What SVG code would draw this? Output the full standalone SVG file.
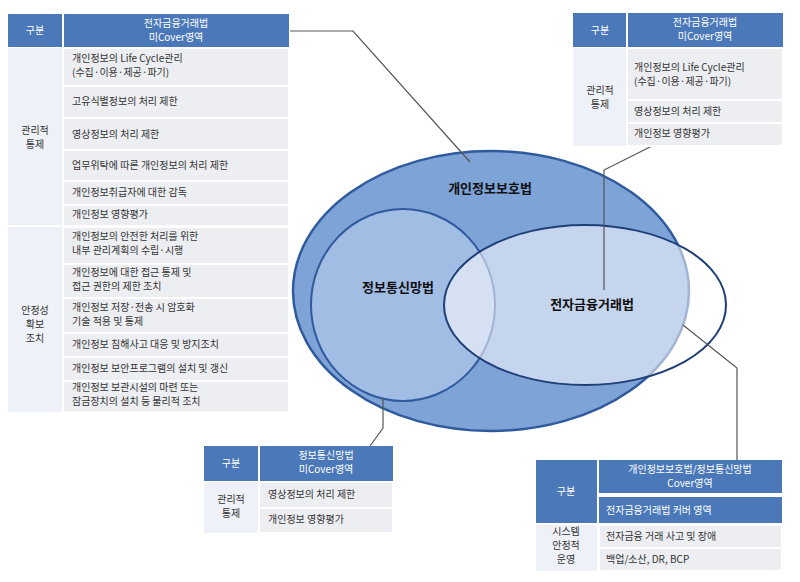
<svg xmlns="http://www.w3.org/2000/svg" width="800" height="582" viewBox="0 0 800 582">
<style>
text{font-family:"Noto Sans CJK KR","Noto Sans",sans-serif;font-size:10px;fill:#333}
.h{fill:#fff;font-size:10px;text-anchor:middle}
.hb{fill:#4a78b8}
.lc{fill:#eef1f7}
.rw{fill:#eceef2;stroke:#fff;stroke-width:2}
.c{text-anchor:middle}
.ln{fill:none;stroke:#555;stroke-width:1.2}
.big{font-size:13px;font-weight:bold;fill:#111;text-anchor:middle}
</style>
<rect width="800" height="582" fill="#fff"/>
<g id="venn">
<ellipse cx="491" cy="291" rx="198" ry="140" fill="#7ea3d7" stroke="#2f5a9e" stroke-width="2.5"/>
<ellipse cx="403" cy="305" rx="92" ry="96" fill="#a2bde4" stroke="#2f5a9e" stroke-width="2"/>
<ellipse cx="585" cy="305" rx="141" ry="80" fill="#ffffff" fill-opacity="0.55" stroke="#1f3f78" stroke-width="2"/>
<text class="big" x="490" y="193">개인정보보호법</text>
<text class="big" x="398" y="292">정보통신망법</text>
<text class="big" x="592" y="309">전자금융거래법</text>
</g>
<g id="connectors">
<polyline class="ln" points="290,31 353,31 470,162"/>
<polyline class="ln" points="652,146 604,170 604,290"/>
<polyline class="ln" points="383,398 383,428 370,446"/>
<polyline class="ln" points="683,325 737,368 737,460"/>
</g>
<g id="table-left">
<rect class="hb" x="8" y="14" width="281" height="33"/>
<line x1="63" y1="14" x2="63" y2="47" stroke="#fff" stroke-width="2"/>
<text class="h" x="35" y="34">구분</text>
<text class="h" x="176" y="27">전자금융거래법</text>
<text class="h" x="176" y="41">미Cover영역</text>
<rect class="lc" x="8" y="48" width="54" height="177"/>
<rect class="lc" x="8" y="227" width="54" height="185"/>
<rect class="rw" x="63" y="48" width="226" height="38"/>
<rect class="rw" x="63" y="86" width="226" height="32"/>
<rect class="rw" x="63" y="118" width="226" height="32"/>
<rect class="rw" x="63" y="150" width="226" height="31"/>
<rect class="rw" x="63" y="181" width="226" height="24"/>
<rect class="rw" x="63" y="205" width="226" height="21"/>
<rect class="rw" x="63" y="227" width="226" height="37"/>
<rect class="rw" x="63" y="264" width="226" height="34"/>
<rect class="rw" x="63" y="298" width="226" height="35"/>
<rect class="rw" x="63" y="333" width="226" height="24"/>
<rect class="rw" x="63" y="357" width="226" height="24"/>
<rect class="rw" x="63" y="381" width="226" height="31"/>
<text class="c" x="35" y="134">관리적</text><text class="c" x="35" y="148">통제</text>
<text class="c" x="35" y="314">안정성</text><text class="c" x="35" y="328">확보</text><text class="c" x="35" y="342">조치</text>
<text x="72" y="62">개인정보의 Life Cycle관리</text>
<text x="72" y="76">(수집·이용·제공·파기)</text>
<text x="72" y="105">고유식별정보의 처리 제한</text>
<text x="72" y="138">영상정보의 처리 제한</text>
<text x="72" y="169">업무위탁에 따른 개인정보의 처리 제한</text>
<text x="72" y="196">개인정보취급자에 대한 감독</text>
<text x="72" y="218">개인정보 영향평가</text>
<text x="72" y="240">개인정보의 안전한 처리를 위한</text>
<text x="72" y="254">내부 관리계획의 수립·시행</text>
<text x="72" y="276">개인정보에 대한 접근 통제 및</text>
<text x="72" y="290">접근 권한의 제한 조치</text>
<text x="72" y="311">개인정보 저장·전송 시 암호화</text>
<text x="72" y="325">기술 적용 및 통제</text>
<text x="72" y="348">개인정보 침해사고 대응 및 방지조치</text>
<text x="72" y="372">개인정보 보안프로그램의 설치 및 갱신</text>
<text x="72" y="391">개인정보 보관시설의 마련 또는</text>
<text x="72" y="405">잠금장치의 설치 등 물리적 조치</text>
</g>
<g id="table-top-right">
<rect class="hb" x="573" y="13" width="210" height="34"/>
<line x1="627" y1="13" x2="627" y2="47" stroke="#fff" stroke-width="2"/>
<text class="h" x="600" y="34">구분</text>
<text class="h" x="705" y="26">전자금융거래법</text>
<text class="h" x="705" y="40">미Cover영역</text>
<rect class="lc" x="573" y="48" width="53" height="98"/>
<rect class="rw" x="627" y="48" width="156" height="52"/>
<rect class="rw" x="627" y="100" width="156" height="23"/>
<rect class="rw" x="627" y="123" width="156" height="23"/>
<text class="c" x="600" y="94">관리적</text><text class="c" x="600" y="108">통제</text>
<text x="634" y="71">개인정보의 Life Cycle관리</text>
<text x="634" y="85">(수집·이용·제공·파기)</text>
<text x="634" y="115">영상정보의 처리 제한</text>
<text x="634" y="137">개인정보 영향평가</text>
</g>
<g id="table-bottom-center">
<rect class="hb" x="204" y="446" width="189" height="35"/>
<line x1="259" y1="446" x2="259" y2="481" stroke="#fff" stroke-width="2"/>
<text class="h" x="231" y="467">구분</text>
<text class="h" x="326" y="459">정보통신망법</text>
<text class="h" x="326" y="473">미Cover영역</text>
<rect class="lc" x="204" y="482" width="54" height="51"/>
<rect class="rw" x="259" y="482" width="134" height="26"/>
<rect class="rw" x="259" y="508" width="134" height="25"/>
<text class="c" x="231" y="503">관리적</text><text class="c" x="231" y="517">통제</text>
<text x="268" y="498">영상정보의 처리 제한</text>
<text x="268" y="523">개인정보 영향평가</text>
</g>
<g id="table-bottom-right">
<rect class="hb" x="536" y="460" width="61" height="63"/>
<rect class="hb" x="599" y="460" width="183" height="33"/>
<rect class="hb" x="599" y="497" width="183" height="26"/>
<text class="h" x="566" y="495">구분</text>
<text class="h" x="690" y="473">개인정보보호법/정보통신망법</text>
<text class="h" x="690" y="487">Cover영역</text>
<text x="606" y="514" style="fill:#fff">전자금융거래법 커버 영역</text>
<rect class="lc" x="536" y="525" width="61" height="46"/>
<rect class="rw" x="599" y="525" width="183" height="23"/>
<rect class="rw" x="599" y="548" width="183" height="23"/>
<text class="c" x="566" y="535">시스템</text><text class="c" x="566" y="549">안정적</text><text class="c" x="566" y="563">운영</text>
<text x="606" y="540">전자금융 거래 사고 및 장애</text>
<text x="606" y="563">백업/소산, DR, BCP</text>
</g>
</svg>
